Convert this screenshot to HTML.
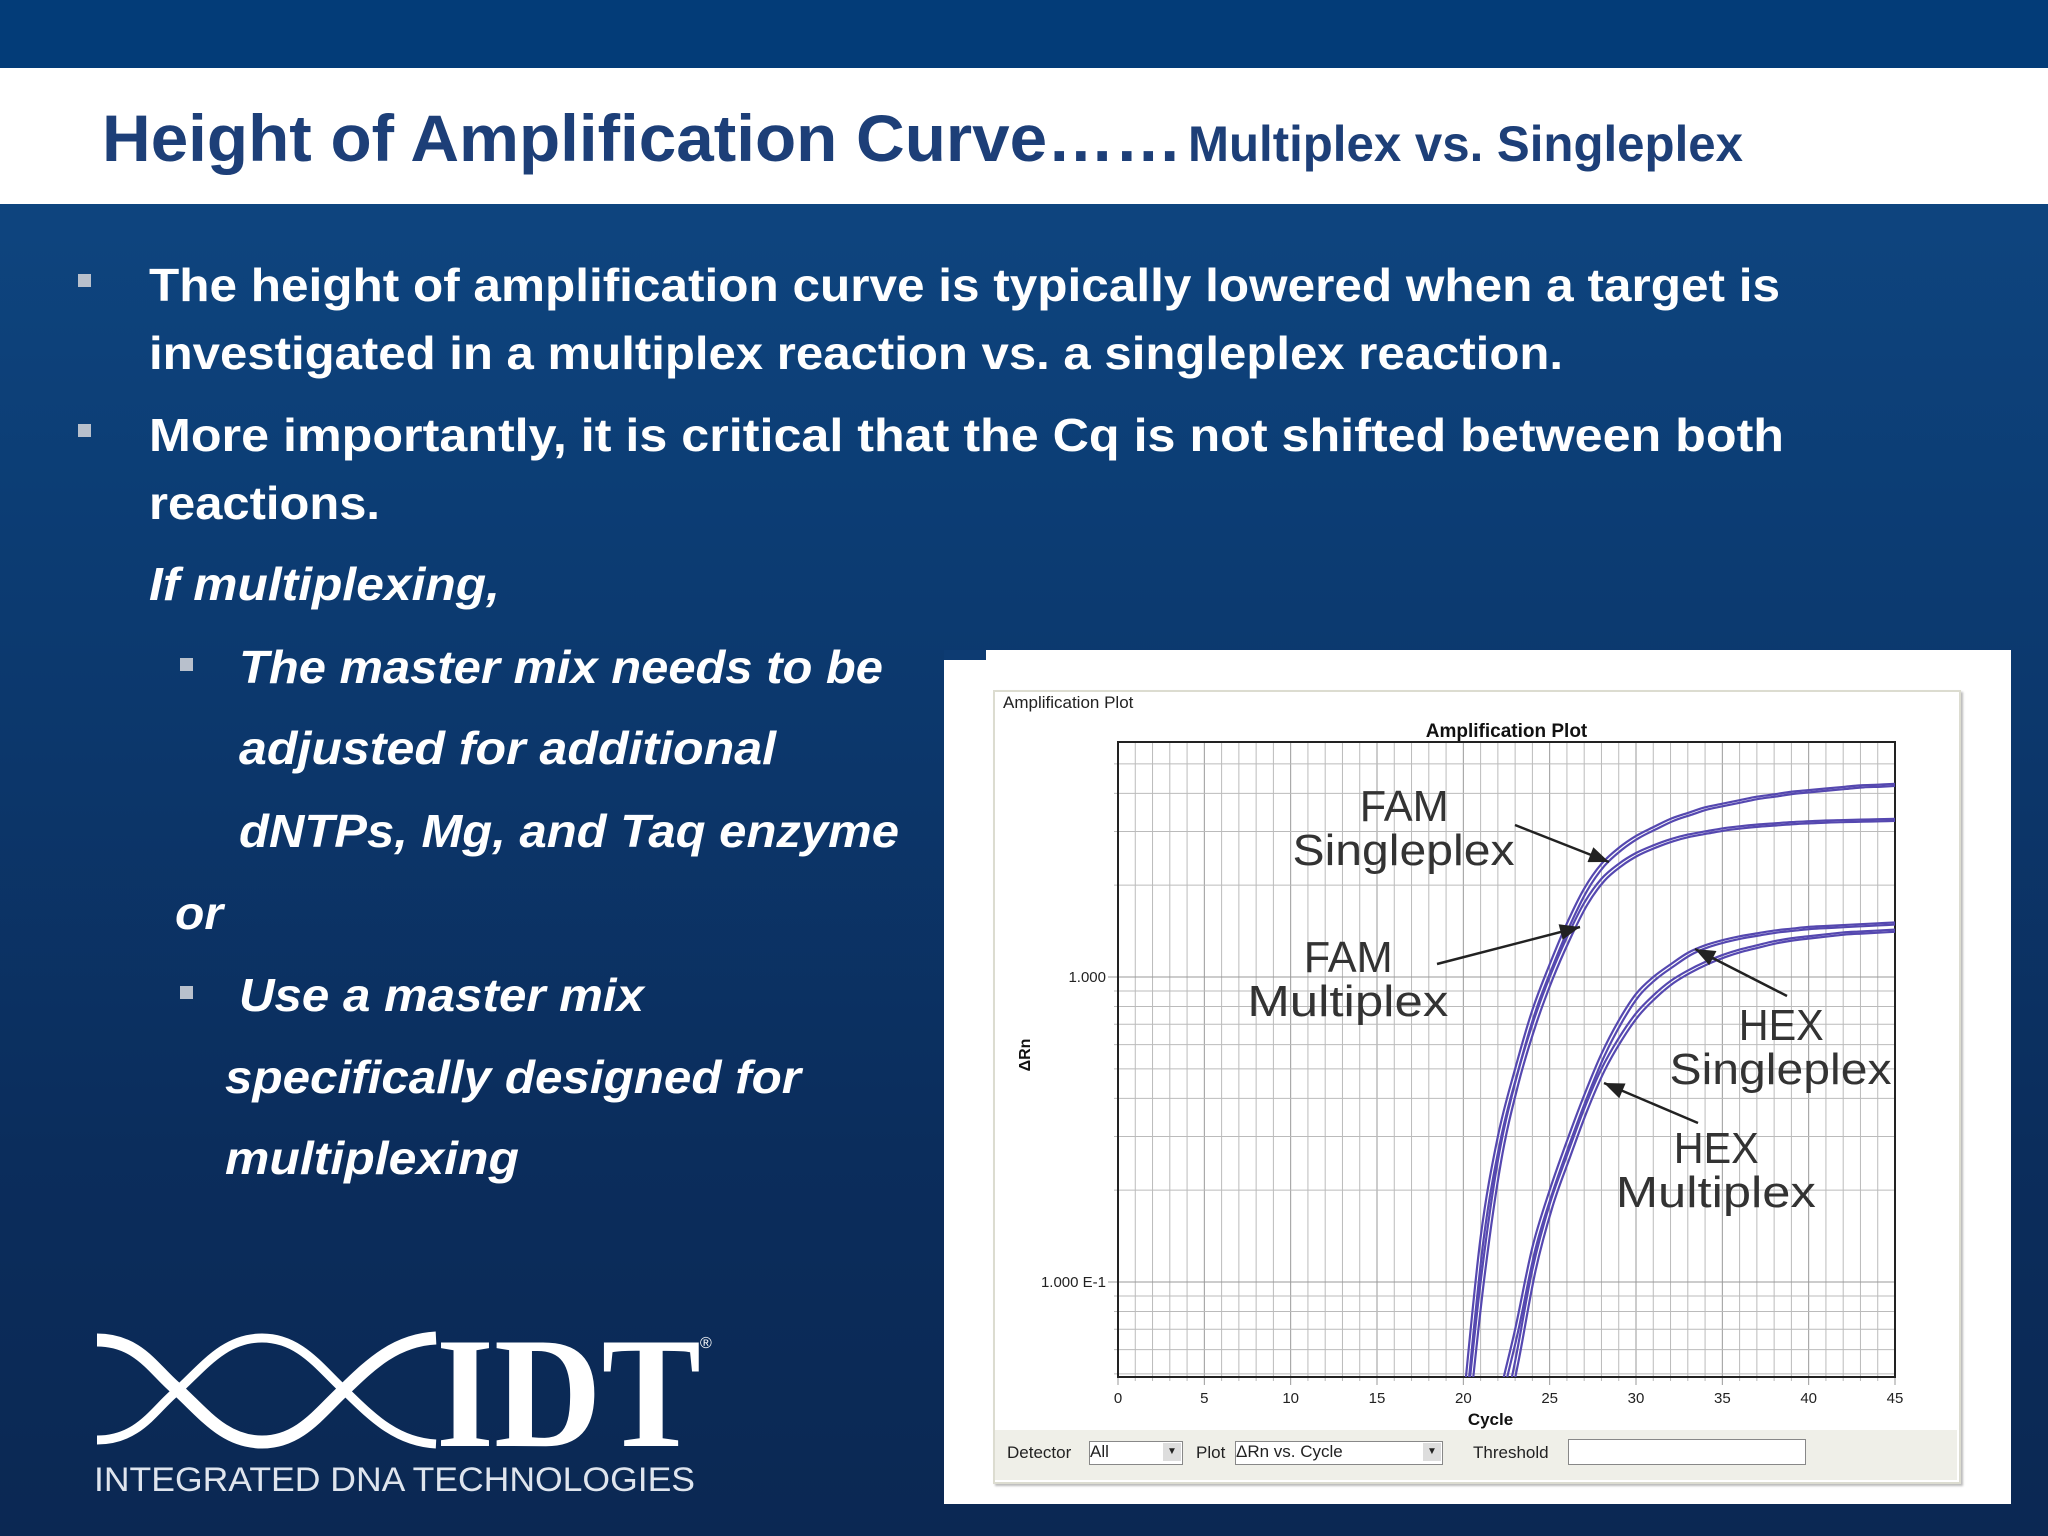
<!DOCTYPE html>
<html><head><meta charset="utf-8">
<style>
html,body{margin:0;padding:0}
body{width:2048px;height:1536px;position:relative;overflow:hidden;font-family:"Liberation Sans",sans-serif;background:linear-gradient(180deg,#0f4a86 0%,#0c3c73 35%,#0b2d5c 75%,#0b2853 100%)}
.abs{position:absolute;white-space:nowrap}
.fit{display:inline-block;transform-origin:0 50%}
.b{color:#fff;font-weight:bold;font-size:46px;line-height:56px}
.i{font-style:italic}
.sq{position:absolute;width:13px;height:13px;background:#b8c0cc}
.ann{font-family:"Liberation Sans",sans-serif;font-size:44px;color:#333;line-height:44px;text-align:center}
.ann .fit{transform-origin:50% 50%}
.ui{font-size:17px;color:#222;font-family:"Liberation Sans",sans-serif}
</style></head>
<body>
<div class="abs" style="left:0;top:0;width:2048px;height:68px;background:#033c78"></div>
<div class="abs" style="left:0;top:68px;width:2048px;height:136px;background:#fff"></div>
<div class="abs" style="left:102px;top:100px;color:#1d3f78;font-weight:bold">
<span class="fit" data-w="1080" style="font-size:66px;line-height:76px">Height of Amplification Curve……</span></div>
<div class="abs" style="left:1188px;top:114px;color:#1d3f78;font-weight:bold">
<span class="fit" data-w="555" style="font-size:50px;line-height:60px">Multiplex vs. Singleplex</span></div>

<div class="sq" style="left:78px;top:274px"></div>
<div class="abs b" style="left:149px;top:257px"><span class="fit" data-w="1631">The height of amplification curve is typically lowered when a target is</span></div>
<div class="abs b" style="left:149px;top:325px"><span class="fit" data-w="1414">investigated in a multiplex reaction vs. a singleplex reaction.</span></div>
<div class="sq" style="left:78px;top:424px"></div>
<div class="abs b" style="left:149px;top:407px"><span class="fit" data-w="1635">More importantly, it is critical that the Cq is not shifted between both</span></div>
<div class="abs b" style="left:149px;top:475px"><span class="fit" data-w="231">reactions.</span></div>
<div class="abs b i" style="left:149px;top:556px"><span class="fit" data-w="351">If multiplexing,</span></div>
<div class="sq" style="left:180px;top:658px"></div>
<div class="abs b i" style="left:239px;top:639px"><span class="fit" data-w="644">The master mix needs to be</span></div>
<div class="abs b i" style="left:239px;top:720px"><span class="fit" data-w="537">adjusted for additional</span></div>
<div class="abs b i" style="left:239px;top:803px"><span class="fit" data-w="660">dNTPs, Mg, and Taq enzyme</span></div>
<div class="abs b i" style="left:175px;top:885px"><span class="fit" data-w="48">or</span></div>
<div class="sq" style="left:180px;top:986px"></div>
<div class="abs b i" style="left:239px;top:967px"><span class="fit" data-w="405">Use a master mix</span></div>
<div class="abs b i" style="left:225px;top:1049px"><span class="fit" data-w="576">specifically designed  for</span></div>
<div class="abs b i" style="left:225px;top:1130px"><span class="fit" data-w="294">multiplexing</span></div>

<svg class="abs" style="left:0;top:0" width="960" height="1536" viewBox="0 0 960 1536">
<path d="M97 1340 C140 1340 155 1372 178 1390 C205 1415 225 1442 262 1442 C300 1442 320 1412 344 1390 C370 1365 395 1340 436 1338" fill="none" stroke="#fff" stroke-width="13" stroke-linecap="butt"/>
<path d="M97 1440 C140 1440 155 1408 178 1390 C205 1365 225 1338 262 1338 C300 1338 320 1368 344 1390 C370 1415 395 1442 436 1444" fill="none" stroke="#fff" stroke-width="9" stroke-linecap="butt"/>
<text x="436" y="1446" font-family="Liberation Serif,serif" font-size="158" font-weight="bold" fill="#fff" textLength="265" lengthAdjust="spacingAndGlyphs">IDT</text>
<text x="700" y="1348" font-family="Liberation Sans,sans-serif" font-size="16" fill="#fff">®</text>
<text x="94" y="1491" font-family="Liberation Sans,sans-serif" font-size="34" fill="#dfe5ee" textLength="601" lengthAdjust="spacingAndGlyphs">INTEGRATED DNA TECHNOLOGIES</text>
</svg>

<div class="abs" style="left:944px;top:650px;width:1067px;height:854px;background:#fff"></div>
<div class="abs" style="left:944px;top:650px;width:42px;height:10px;background:#0d3b72"></div>
<div class="abs" style="left:993px;top:690px;width:964px;height:790px;background:#fff;border:2px solid #dcdcd0;box-shadow:2px 2px 2px #bbb"></div>
<div class="abs" style="left:995px;top:1430px;width:962px;height:50px;background:#efefe8"></div>
<div class="abs ui" style="left:1003px;top:693px">Amplification Plot</div>

<svg id="chart" class="abs" style="left:0;top:0" width="2048" height="1536"></svg>

<div class="abs ui" style="left:1007px;top:1443px">Detector</div>
<div class="abs ui" style="left:1089px;top:1441px;width:92px;height:22px;border:1px solid #888;background:#fff">All<span style="position:absolute;right:1px;top:1px;width:18px;height:18px;background:#ddd;font-size:10px;text-align:center;line-height:18px">▼</span></div>
<div class="abs ui" style="left:1196px;top:1443px">Plot</div>
<div class="abs ui" style="left:1235px;top:1441px;width:206px;height:22px;border:1px solid #888;background:#fff">ΔRn vs. Cycle<span style="position:absolute;right:1px;top:1px;width:18px;height:18px;background:#ddd;font-size:10px;text-align:center;line-height:18px">▼</span></div>
<div class="abs ui" style="left:1473px;top:1443px">Threshold</div>
<div class="abs ui" style="left:1568px;top:1439px;width:236px;height:24px;border:1px solid #888;background:#fff"></div>

<div class="abs ann" style="left:1290px;top:785px;width:228px"><span class="fit" data-w="89">FAM</span><br><span class="fit" data-w="222">Singleplex</span></div>
<div class="abs ann" style="left:1245px;top:936px;width:206px"><span class="fit" data-w="89">FAM</span><br><span class="fit" data-w="201">Multiplex</span></div>
<div class="abs ann" style="left:1668px;top:1004px;width:226px"><span class="fit" data-w="85">HEX</span><br><span class="fit" data-w="222">Singleplex</span></div>
<div class="abs ann" style="left:1614px;top:1127px;width:204px"><span class="fit" data-w="85">HEX</span><br><span class="fit" data-w="200">Multiplex</span></div>

<script>
const cycles=[20,21,22,23,24,25,26,27,28,29,30,31,32,33,34,35,36,37,38,39,40,41,42,43,44,45];
const famSingle=[0.04,0.14,0.3,0.5,0.78,1.1,1.5,1.95,2.35,2.65,2.9,3.1,3.3,3.45,3.6,3.7,3.8,3.9,3.97,4.05,4.1,4.15,4.2,4.25,4.27,4.3];
const famMulti=[0.03,0.1,0.25,0.45,0.7,1.0,1.35,1.75,2.1,2.35,2.55,2.7,2.83,2.93,3.0,3.07,3.12,3.16,3.19,3.22,3.24,3.26,3.27,3.28,3.29,3.3];
const hexSingle=[0.02,0.02,0.04,0.07,0.13,0.2,0.29,0.41,0.56,0.72,0.88,1.0,1.1,1.2,1.27,1.32,1.36,1.39,1.42,1.44,1.46,1.47,1.48,1.49,1.5,1.51];
const hexMulti=[0.02,0.02,0.03,0.055,0.11,0.18,0.26,0.37,0.5,0.63,0.76,0.87,0.97,1.05,1.12,1.18,1.23,1.27,1.31,1.34,1.36,1.38,1.4,1.41,1.42,1.43];
const xTicks=[0,5,10,15,20,25,30,35,40,45];
const yTickVals=[1,0.1];
const yTickLabels=["1.000","1.000 E-1"];

const NS="http://www.w3.org/2000/svg";
const svg=document.getElementById('chart');
const L=1118,R=1895,T=742,B=1377;
const xMin=0,xMax=45;
const y1px=977,decade=305;
function xs(c){return L+(c-xMin)/(xMax-xMin)*(R-L);}
function ys(v){return y1px-Math.log10(v)*decade;}
function mk(tag,attrs){const e=document.createElementNS(NS,tag);for(const k in attrs)e.setAttribute(k,attrs[k]);svg.appendChild(e);return e;}

const defs=mk('defs',{});
const cp=document.createElementNS(NS,'clipPath');cp.setAttribute('id','pc');
const cr=document.createElementNS(NS,'rect');cr.setAttribute('x',L);cr.setAttribute('y',T);cr.setAttribute('width',R-L);cr.setAttribute('height',B-T);
cp.appendChild(cr);defs.appendChild(cp);
const mkr=document.createElementNS(NS,'marker');
mkr.setAttribute('id','ah');mkr.setAttribute('refX','10');mkr.setAttribute('refY','4');mkr.setAttribute('orient','auto');mkr.setAttribute('markerUnits','userSpaceOnUse');
mkr.setAttribute('viewBox','0 0 10 8');
const mp=document.createElementNS(NS,'path');mp.setAttribute('d','M0 0 L10 4 L0 8 Z');mp.setAttribute('fill','#222');mkr.appendChild(mp);
mkr.setAttribute('markerWidth','22');mkr.setAttribute('markerHeight','16');
defs.appendChild(mkr);

const title=mk('text',{x:(L+R)/2,y:737,'text-anchor':'middle','font-size':19,'font-weight':'bold',fill:'#111','font-family':'Liberation Sans,sans-serif'});
title.textContent='Amplification Plot';



for(let c=0;c<=45;c++){
  const g=mk('line',{x1:xs(c),x2:xs(c),y1:T,y2:B+(c%5===0?8:4),stroke:c%5===0?'#999':'#bbb','stroke-width':1});
  
  
}
for(let d=-2;d<=1;d++){
  for(let m=1;m<=9;m++){
    const v=m*Math.pow(10,d);const y=ys(v);
    if(y<T||y>B)continue;
    const g=mk('line',{x1:L-(m===1?10:4),x2:R,y1:y,y2:y,stroke:m===1?'#999':'#bbb','stroke-width':1});
    
    
  }
}
mk('rect',{x:L,y:T,width:R-L,height:B-T,fill:'none',stroke:'#222','stroke-width':2});

xTicks.forEach(t=>{
  const e=mk('text',{x:xs(t),y:B+26,'text-anchor':'middle','font-size':15,fill:'#222','font-family':'Liberation Sans,sans-serif'});
  e.textContent=String(t);
  
  
});
yTickVals.forEach((v,i)=>{
  const e=mk('text',{x:L-12,y:ys(v)+5,'text-anchor':'end','font-size':15,fill:'#222','font-family':'Liberation Sans,sans-serif'});
  e.textContent=yTickLabels[i];
  
  
});
const xt=mk('text',{x:(L+R)/2-16,y:B+48,'text-anchor':'middle','font-size':17,'font-weight':'bold',fill:'#111','font-family':'Liberation Sans,sans-serif'});
xt.textContent='Cycle';


const yt=mk('text',{x:0,y:0,'text-anchor':'middle','font-size':16,'font-weight':'bold',fill:'#111','font-family':'Liberation Sans,sans-serif',transform:'translate(1030,1055) rotate(-90)'});
yt.textContent='ΔRn';



function pathFor(vals,dx,dy){
  const pts=cycles.map((c,i)=>[xs(c)+dx,ys(vals[i])+dy]);
  let d='M'+pts[0][0]+' '+pts[0][1];
  for(let i=0;i<pts.length-1;i++){
    const p0=pts[Math.max(0,i-1)],p1=pts[i],p2=pts[i+1],p3=pts[Math.min(pts.length-1,i+2)];
    const c1x=p1[0]+(p2[0]-p0[0])/6,c1y=p1[1]+(p2[1]-p0[1])/6;
    const c2x=p2[0]-(p3[0]-p1[0])/6,c2y=p2[1]-(p3[1]-p1[1])/6;
    d+=' C'+c1x+' '+c1y+' '+c2x+' '+c2y+' '+p2[0]+' '+p2[1];
  }
  return d;
}
const g=mk('g',{'clip-path':'url(#pc)'});
[['fam-singleplex',famSingle],['fam-multiplex',famMulti],['hex-singleplex',hexSingle],['hex-multiplex',hexMulti]].forEach(([n,vals])=>{
  [[0,0],[3,2]].forEach(([dx,dy],k)=>{
    const p=document.createElementNS(NS,'path');
    p.setAttribute('d',pathFor(vals,dx,dy));
    p.setAttribute('fill','none');p.setAttribute('stroke','#5548b0');p.setAttribute('stroke-width','2.2');
    
    
    g.appendChild(p);
  });
});

[[1515,825,1609,862],[1437,964,1580,927],[1787,996,1695,949],[1698,1123,1604,1083]].forEach(a=>{
  const l=mk('line',{x1:a[0],y1:a[1],x2:a[2],y2:a[3],stroke:'#222','stroke-width':2.5,'marker-end':'url(#ah)'});
  
  
});

document.querySelectorAll('.fit').forEach(s=>{
  const w=s.getBoundingClientRect().width;const t=+s.dataset.w;
  if(w>0)s.style.transform='scaleX('+(t/w)+')';
});
</script>
</body></html>
